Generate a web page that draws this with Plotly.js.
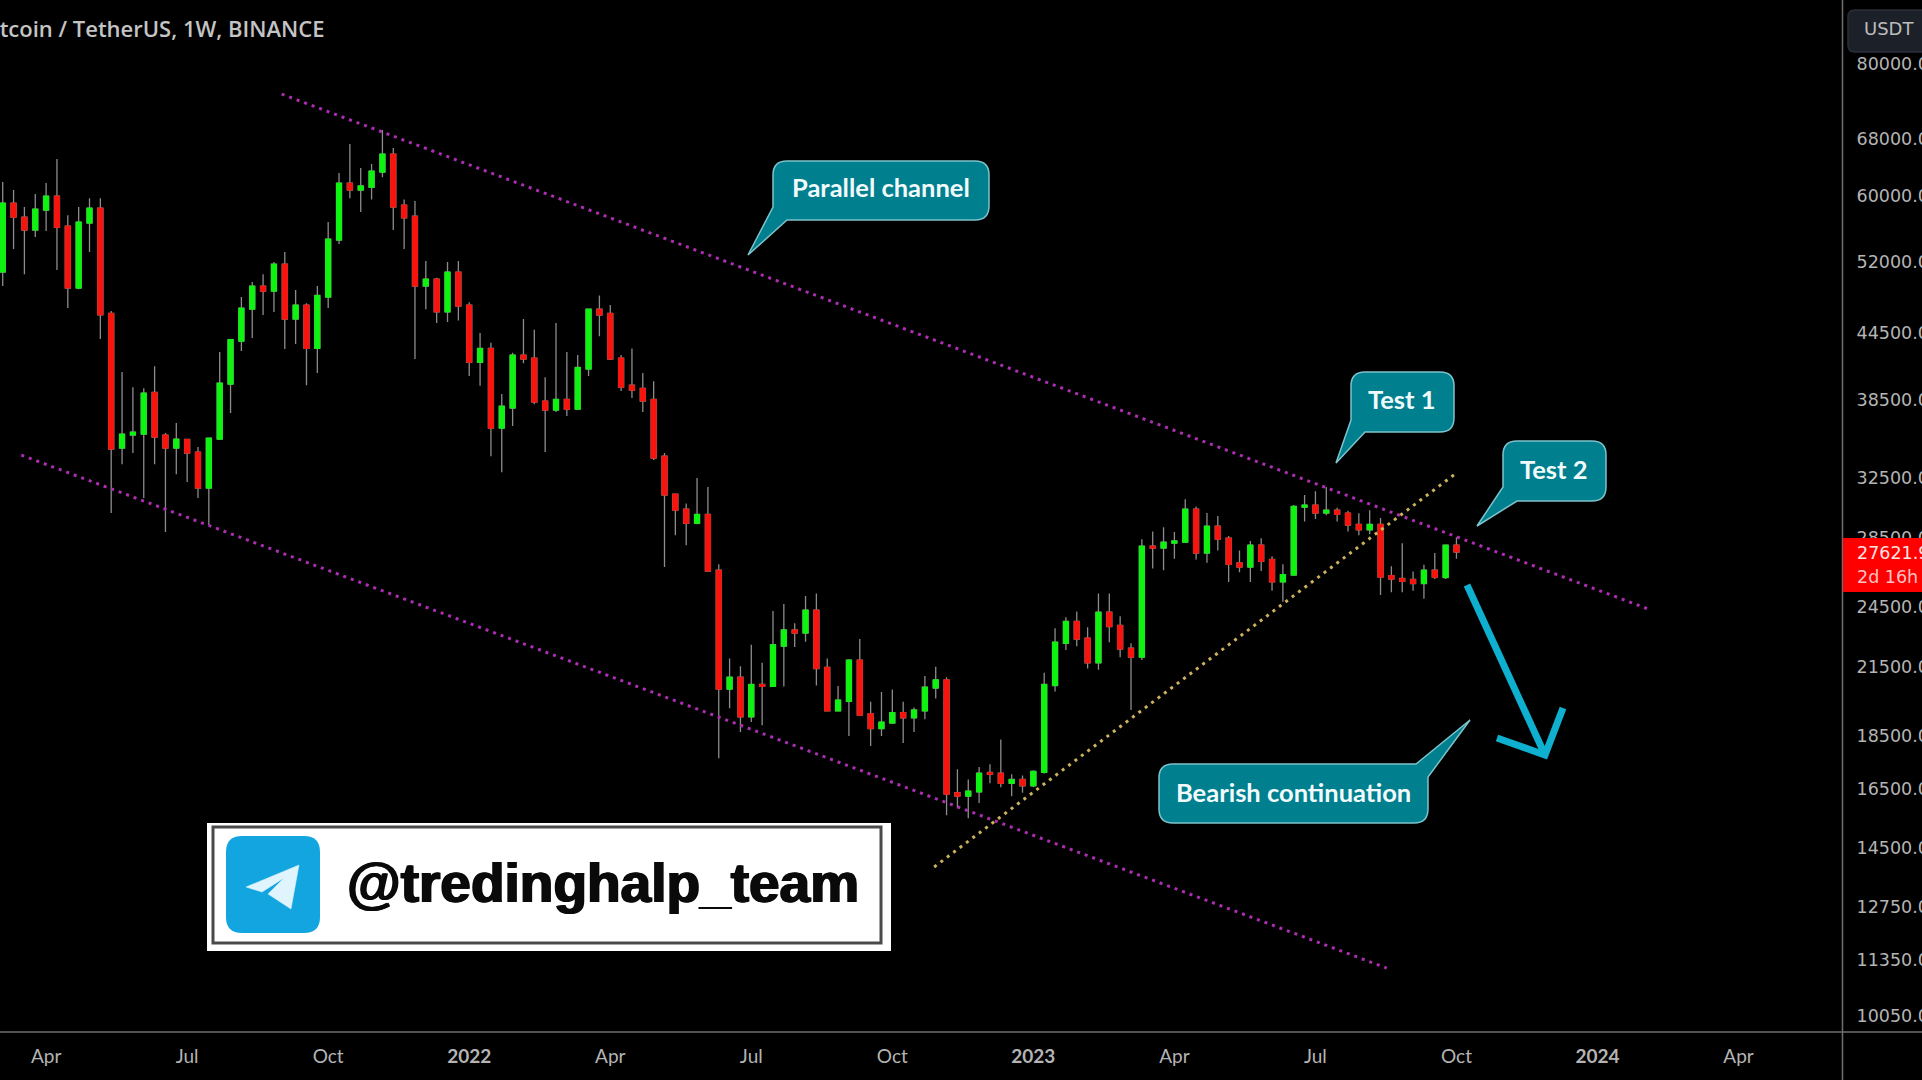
<!DOCTYPE html>
<html>
<head>
<meta charset="utf-8">
<script src="https://cdn.plot.ly/plotly-3.0.1.min.js"></script>
<style>html,body{margin:0;padding:0;background:#000;overflow:hidden}#chart{width:1922px;height:1080px}</style>
</head>
<body>
<div id="chart"></div>
<script>
const firstWeek = "2021-03-08";
const open = [50830,59070,57290,55700,58170,59970,56180,49090,56550,58430,
46460,34640,35640,35710,39110,35640,34640,35300,34340,31750,
35320,39820,43730,46880,49300,48760,51710,45880,47300,43040,
48130,54500,61700,60770,61130,63190,65730,58820,57400,49300,
50060,46600,50830,47300,41760,43040,36180,37800,42420,42150,
38380,37630,38520,37710,41150,46880,46460,42150,39730,39460,
38520,34040,31340,30330,29410,29980,26550,20490,21030,19290,
20700,20610,22500,23310,23150,24340,21490,19540,19950,21830,
19420,18800,19030,19470,19250,19540,20540,20910,16350,16230,
16380,17090,17060,16690,16830,16600,17090,20650,22640,23750,
22900,21700,24230,23540,22400,21970,27980,27860,28160,28220,
30330,27560,29220,28470,26980,26730,28040,27180,25880,26270,
30460,30600,30070,30260,30070,29340,28990,29340,26240,26080,
26020,25790,26550,26130,28040];
const close = [59070,57290,55700,58300,59970,56030,49090,56680,58430,46310,
34570,35710,35870,39050,35480,34640,35320,34270,31750,35400,
39910,43880,46990,49300,48760,51710,45880,47300,43040,48310,
54620,61700,60770,61310,63340,65730,58560,57200,49300,50060,
46600,50830,47200,41760,43040,36180,37950,42420,42050,38290,
37630,38520,37710,41290,46880,46290,42050,39560,39300,38380,
33900,31270,30260,29410,29980,26500,20490,21030,19290,20700,
20610,22570,23310,23150,24340,21430,19540,20010,21830,19360,
18800,19070,19470,19250,19580,20580,20910,16300,16230,16410,
17060,17020,16690,16830,16600,17130,20700,22700,23750,22850,
21700,24230,23480,22360,21970,27980,27860,28220,28300,30330,
27560,29220,28410,26890,26730,28040,27070,25880,26300,30510,
30600,30070,30260,29980,29290,28990,29340,26150,26040,25910,
25790,26550,26150,28040,27621.9];
const high = [61840,60770,58560,60240,61700,65010,57540,58560,59690,59690,
46690,40880,39560,39460,41410,35790,36580,35320,34720,35400,
42700,43930,48130,49730,50600,51950,53090,48870,47480,49300,
56680,63060,67170,63750,64320,69250,66590,59550,59330,52060,
50210,51950,52060,47590,44500,43570,38970,42640,45880,44830,
40420,45480,42700,42420,46950,48310,47300,42420,43040,40800,
40080,34270,31340,30710,32450,31830,26900,21910,21540,22570,
21700,24290,24660,23650,25100,25240,21910,20630,21870,22850,
19930,20360,20480,19930,19690,21090,21510,21030,17210,16830,
17290,17400,18360,17020,16980,17170,21240,23400,23970,24270,
23450,25240,25240,24020,22640,28410,28890,29150,28850,30980,
30510,30070,29880,28600,27720,28300,28470,27370,26890,30600,
31270,31540,31830,30420,30220,30050,30260,29750,26780,28160,
26480,26870,27560,28040,28530];
const low = [49300,53440,50600,54850,55580,51050,46990,48970,53090,43930,
30070,33450,34270,31070,33450,28850,32730,32170,31070,29290,
35320,37390,42790,44020,46290,46600,42980,43450,39730,40800,
46990,54030,59690,57920,59550,62500,55700,53440,42050,46880,
45480,45590,45740,40530,39680,34040,32860,36350,41670,38120,
34340,37470,37140,37700,40530,44200,41970,39220,38630,37470,
33750,26730,28650,28040,29340,26480,17630,19660,18660,19070,
18940,20600,20610,22460,22720,20650,19520,19520,18500,19340,
18100,18500,19010,18220,18660,19190,20080,15570,15810,15470,
15990,16690,16550,16230,16350,16550,17050,20390,22310,22500,
21430,21380,22700,21970,19580,21830,26650,26550,27220,28200,
27180,26980,27720,25880,26430,25880,26500,25390,24790,26250,
29530,29680,29930,29530,28890,28650,28710,25160,25310,25310,
25390,24950,26040,26040,27220];

const priceTicks = [80000,68000,60000,52000,44500,38500,32500,28500,24500,21500,18500,16500,14500,12750,11350,10050];
const timeTicks = ["2021-04-05","2021-07-05","2021-10-04","2022-01-03","2022-04-04","2022-07-04","2022-10-03","2023-01-02","2023-04-03","2023-07-03","2023-10-02","2024-01-01","2024-04-01"];
const timeLabels = ["Apr","Jul","Oct","<b>2022</b>","Apr","Jul","Oct","<b>2023</b>","Apr","Jul","Oct","<b>2024</b>","Apr"];

const channelUpperX = ["2021-09-04","2024-02-03"], channelUpperY = [74900,24390];
const channelLowerX = ["2021-03-20","2023-08-18"], channelLowerY = [34120,11160];
const supportX = ["2022-10-30","2023-10-01"], supportY = [13910,32730];

const dates = open.map((_, i) => {
  const d = new Date(firstWeek + "T00:00:00Z");
  d.setUTCDate(d.getUTCDate() + 7 * i);
  return d.toISOString().slice(0, 10);
});

// pixel helpers for decoration placed on the page
const PW = 1842, PH = 1032;
const X = p => p / PW, Y = p => 1 - p / PH;
const P = (x, y) => X(x) + "," + Y(y);
function rrect(x0, y0, x1, y1, r) {
  return "M" + P(x0 + r, y0) + " L" + P(x1 - r, y0) + " Q" + P(x1, y0) + " " + P(x1, y0 + r) +
    " L" + P(x1, y1 - r) + " Q" + P(x1, y1) + " " + P(x1 - r, y1) +
    " L" + P(x0 + r, y1) + " Q" + P(x0, y1) + " " + P(x0, y1 - r) +
    " L" + P(x0, y0 + r) + " Q" + P(x0, y0) + " " + P(x0 + r, y0) + " Z";
}
function bubbleBL(x0, y0, x1, y1, r, tip, bx, ly) {
  return "M" + P(x0 + r, y0) + " L" + P(x1 - r, y0) + " Q" + P(x1, y0) + " " + P(x1, y0 + r) +
    " L" + P(x1, y1 - r) + " Q" + P(x1, y1) + " " + P(x1 - r, y1) +
    " L" + P(bx, y1) + " L" + P(tip[0], tip[1]) + " L" + P(x0, ly) +
    " L" + P(x0, y0 + r) + " Q" + P(x0, y0) + " " + P(x0 + r, y0) + " Z";
}
function bubbleTR(x0, y0, x1, y1, r, tip, tx, ry) {
  return "M" + P(x0 + r, y0) + " L" + P(tx, y0) + " L" + P(tip[0], tip[1]) + " L" + P(x1, ry) +
    " L" + P(x1, y1 - r) + " Q" + P(x1, y1) + " " + P(x1 - r, y1) +
    " L" + P(x0 + r, y1) + " Q" + P(x0, y1) + " " + P(x0, y1 - r) +
    " L" + P(x0, y0 + r) + " Q" + P(x0, y0) + " " + P(x0 + r, y0) + " Z";
}
const TEAL = "#007f8f", EDGE = "#7cc3cc";
const bubble = path => ({type:"path", xref:"paper", yref:"paper", path, fillcolor:TEAL, line:{color:EDGE, width:1.5}, layer:"above"});
const pathShape = (path, fill, color, width) => ({type:"path", xref:"paper", yref:"paper", path, fillcolor:fill, line:{color, width}, layer:"above"});
const lineShape = (x0, y0, x1, y1, color, width) => ({type:"line", xref:"paper", yref:"paper", x0:X(x0), y0:Y(y0), x1:X(x1), y1:Y(y1), line:{color, width}, layer:"above"});

const shapes = [
  lineShape(0, 1032, 1922, 1032, "#6f6f6f", 1.5),
  lineShape(1842.5, 0, 1842.5, 1080, "#6f6f6f", 1.5),
  pathShape("M" + P(1843, 538) + " L" + P(1922, 538) + " L" + P(1922, 592) + " L" + P(1843, 592) + " Z", "#ff0000", "#ff0000", 0),
  pathShape(rrect(1848, 10, 1960, 52, 7), "#1c2028", "#2a2e39", 1.5),
  bubble(bubbleBL(773, 161, 989, 220, 14, [748, 255], 787, 207)),
  bubble(bubbleBL(1351, 372, 1454, 432, 14, [1336, 463], 1365, 420)),
  bubble(bubbleBL(1503, 441, 1606, 501, 14, [1477, 526], 1517, 487)),
  bubble(bubbleTR(1159, 764, 1428, 823, 14, [1470, 720], 1416, 777)),
  lineShape(1467, 585, 1545, 755, "#0fb0cf", 7),
  pathShape("M" + P(1497, 738) + " L" + P(1545, 755) + " L" + P(1563, 708), "rgba(0,0,0,0)", "#0fb0cf", 7),
  pathShape("M" + P(207, 823) + " L" + P(891, 823) + " L" + P(891, 951) + " L" + P(207, 951) + " Z", "#ffffff", "#ffffff", 0),
  pathShape("M" + P(213, 827) + " L" + P(881, 827) + " L" + P(881, 943) + " L" + P(213, 943) + " Z", "#ffffff", "#4a4a4a", 3),
  pathShape(rrect(226, 836, 320, 933, 16), "#12a5e0", "#12a5e0", 0),
  pathShape("M" + P(246, 887) + " L" + P(299, 865) + " L" + P(291, 909) + " L" + P(268, 894) + " L" + P(284, 878) + " L" + P(262, 892) + " Z", "#dff4fc", "#dff4fc", 0.5)
];

const note = (text, x, y, size, color, family, anchor, weight, shadow) => {
  const font = {size, color, family, weight:weight || 400};
  if (shadow) font.shadow = shadow;
  return {text, xref:"paper", yref:"paper", x:X(x), y:Y(y), showarrow:false,
    xanchor:anchor || "center", yanchor:"middle", font};
};
const BUB = "Lato, sans-serif";
const annotations = [
  note("Bitcoin / TetherUS, 1W, BINANCE", 326, 28, 22, "#c4c4c4", "'Open Sans', sans-serif", "right", 600),
  note("Parallel channel", 881, 187, 25.5, "#f2fbfc", BUB, "center", 700),
  note("Test 1", 1402, 399, 25.5, "#f2fbfc", BUB, "center", 700),
  note("Test 2", 1554, 469, 25.5, "#f2fbfc", BUB, "center", 700),
  note("Bearish continuation", 1293.5, 792, 25.5, "#f2fbfc", BUB, "center", 700),
  note("USDT", 1889, 28, 18, "#bdbdbd", "'DejaVu Sans', sans-serif"),
  note("27621.9", 1855, 553, 17.5, "#ffe3e3", "'DejaVu Sans', sans-serif", "left"),
  note("2d 16h", 1855, 577, 17.5, "#ffc4c4", "'DejaVu Sans', sans-serif", "left"),
  note("@tredinghalp_team", 602.5, 883, 55, "#0a0a0a", "'Liberation Sans', sans-serif", "center", 700, "1px 0 #0a0a0a, -1px 0 #0a0a0a")
];

const GREEN = "#0cf40f", RED = "#f8130d", WICK = "#8c8c8c";
const wicks = {
  type:"candlestick", x:dates, open, high, low, close, hoverinfo:"skip", showlegend:false,
  whiskerwidth:0,
  increasing:{line:{color:WICK, width:1.3}, fillcolor:WICK},
  decreasing:{line:{color:WICK, width:1.3}, fillcolor:WICK}
};
const bodies = {
  type:"candlestick", x:dates, open, close,
  high:open.map((o, i) => Math.max(o, close[i])),
  low:open.map((o, i) => Math.min(o, close[i])),
  hoverinfo:"skip", showlegend:false, whiskerwidth:0,
  increasing:{line:{color:GREEN, width:1}, fillcolor:GREEN},
  decreasing:{line:{color:RED, width:1}, fillcolor:RED}
};
const dotted = (x, y, color) => ({
  type:"scatter", mode:"lines", x, y, hoverinfo:"skip", showlegend:false,
  line:{color, width:3, dash:"3px,5px"}
});

const traces = [wicks, bodies,
  dotted(channelUpperX, channelUpperY, "#ad2db3"),
  dotted(channelLowerX, channelLowerY, "#ad2db3"),
  dotted(supportX, supportY, "#cdb25c")];

const layout = {
  width:1922, height:1080,
  margin:{l:0, r:80, t:0, b:48, pad:0},
  paper_bgcolor:"#000", plot_bgcolor:"#000",
  showlegend:false, boxgap:0.33, boxmode:"overlay",
  xaxis:{type:"date", range:["2021-03-06 06:00","2024-06-06 18:00"],
    rangeslider:{visible:false}, tickmode:"array", tickvals:timeTicks, ticktext:timeLabels,
    ticks:"outside", ticklen:7.5, tickcolor:"rgba(0,0,0,0)", showgrid:false, zeroline:false, showline:false,
    tickfont:{family:"Lato, sans-serif", size:19, color:"#b4b4b4"}},
  yaxis:{type:"log", range:[3.9872,4.9635], side:"right",
    tickmode:"array", tickvals:priceTicks, ticktext:priceTicks.map(v => v.toFixed(2)),
    ticks:"outside", ticklen:10, tickcolor:"rgba(0,0,0,0)", showgrid:false, zeroline:false, showline:false,
    tickfont:{family:"'DejaVu Sans', sans-serif", size:17.5, color:"#b4b4b4"}},
  shapes, annotations
};
Plotly.newPlot("chart", traces, layout, {displayModeBar:false, staticPlot:true});
</script>
</body>
</html>
